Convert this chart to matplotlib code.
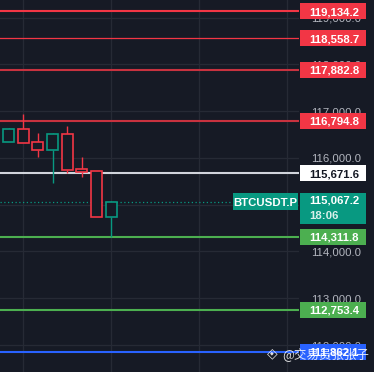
import matplotlib
matplotlib.use("Agg")
import matplotlib.pyplot as plt
from matplotlib.patches import Rectangle

# ---------------- data ----------------
opens  = [116346, 116611, 116333, 116175, 116504, 115756, 115714, 114744]
closes = [116611, 116325, 116175, 116504, 115748, 115705, 114744, 115067.2]
highs  = [116639, 116938, 116532, 116532, 116682, 116019, 115714, 115079]
lows   = [116346, 116325, 116026, 115470, 115684, 115598, 114744, 114316]

level_prices = [119134.2, 118558.7, 117882.8, 116794.8, 115671.6, 114311.8, 112753.4, 111862.1]
level_labels = ["119,134.2", "118,558.7", "117,882.8", "116,794.8", "115,671.6",
                "114,311.8", "112,753.4", "111,862.1"]
level_kinds  = ["red", "red_thin", "red_dark", "red_dark", "white", "green", "green", "blue"]

tick_prices = [112000, 113000, 114000, 115000, 116000, 117000, 118000, 119000]
tick_labels = ["112,000.0", "113,000.0", "114,000.0", "115,000.0",
               "116,000.0", "117,000.0", "118,000.0", "119,000.0"]

current_price = 115067.2
current_label = "115,067.2"
countdown = "18:06"
symbol = "BTCUSDT.P"
watermark = "@交易员张张子"

# ---------------- style ----------------
BG = "#161A25"
GRID = "#262A35"
UP = "#089981"
DOWN = "#F23645"
styles = {
    "red":      dict(line="#F23645", lw=1.5, box="#F23645", txt="white"),
    "red_thin": dict(line="#F23645", lw=0.9, box="#F23645", txt="white"),
    "red_dark": dict(line="#C8323F", lw=1.5, box="#F23645", txt="white"),
    "white":    dict(line="#D1D4DC", lw=1.5, box="#FFFFFF", txt="#131722"),
    "green":    dict(line="#4CAF50", lw=1.5, box="#4CAF50", txt="white"),
    "blue":     dict(line="#2962FF", lw=1.5, box="#2962FF", txt="white"),
}
FONT = "Liberation Sans"
FS = 8.2

W, H = 374, 372
fig = plt.figure(figsize=(W / 100, H / 100), dpi=100, facecolor=BG)
plot_w = 299
ax = fig.add_axes([0, 0, plot_w / W, 1])
ax.set_zorder(1)
ax.set_facecolor(BG)
ylim = (111425, 119374)
ax.set_ylim(*ylim)
ax.set_xlim(-0.588, 19.79)
for s in ax.spines.values():
    s.set_visible(False)

ax.set_xticks([1, 7, 13, 19])
ax.set_yticks(tick_prices)
ax.grid(True, color=GRID, lw=0.9)
ax.set_axisbelow(True)
ax.tick_params(axis="x", length=0, labelbottom=False)
ax.yaxis.tick_right()
ax.set_yticklabels(tick_labels)
ax.tick_params(axis="y", length=0, pad=9, labelcolor="#B2B5BE", labelsize=FS)
for t in ax.get_yticklabels():
    t.set_fontfamily(FONT)

# candles
bw = 0.75
for i, (o, c, h, l) in enumerate(zip(opens, closes, highs, lows)):
    col = UP if c >= o else DOWN
    top, bot = max(o, c), min(o, c)
    if h > top:
        ax.plot([i, i], [top, h], color=col, lw=1.0, zorder=3, solid_capstyle="butt")
    if l < bot:
        ax.plot([i, i], [l, bot], color=col, lw=1.0, zorder=3, solid_capstyle="butt")
    ax.add_patch(Rectangle((i - bw / 2, bot), bw, top - bot, facecolor=BG,
                           edgecolor=col, lw=1.2, zorder=4))

# horizontal levels
for p, k in zip(level_prices, level_kinds):
    st = styles[k]
    ax.axhline(p, color=st["line"], lw=st["lw"], zorder=2)

# current price dotted line
ax.axhline(current_price, color=UP, lw=0.9, ls=(0, (1, 2)), zorder=2)

# price axis overlay
ax2 = fig.add_axes([plot_w / W, 0, (W - plot_w) / W, 1], sharey=ax)
ax2.set_zorder(5)
ax2.set_xlim(0, W - plot_w)
ax2.patch.set_visible(False)
ax2.axis("off")
ax2.set_ylim(*ylim)

ppx = (ylim[1] - ylim[0]) / H  # price units per pixel
box_h = 16 * ppx
for p, lab, k in zip(level_prices, level_labels, level_kinds):
    st = styles[k]
    ax2.add_patch(Rectangle((1, p - box_h / 2), 66, box_h, facecolor=st["box"],
                            edgecolor="none", zorder=5, clip_on=False))
    ax2.text(35, p, lab, color=st["txt"], fontsize=FS, family=FONT, weight="bold",
             ha="center", va="center_baseline", zorder=6, clip_on=False)

# current price box
ax2.add_patch(Rectangle((1, current_price - 22 * ppx), 66, 31 * ppx, facecolor=UP,
                        edgecolor="none", zorder=5, clip_on=False))
ax2.text(35, current_price + 2.5 * ppx, current_label, color="white", fontsize=FS,
         family=FONT, weight="bold", ha="center", va="center_baseline", zorder=6, clip_on=False)
ax2.text(10, current_price - 13 * ppx, countdown, color="#D8EFEA", fontsize=FS,
         family=FONT, weight="bold", ha="left", va="center_baseline", zorder=6, clip_on=False)

# symbol label (left of price axis)
ax2.add_patch(Rectangle((-66, current_price - 8.5 * ppx), 65, 17 * ppx, facecolor=UP,
                        edgecolor="none", zorder=5, clip_on=False))
ax2.text(-33.5, current_price - 0.5 * ppx, symbol, color="white", fontsize=FS,
         family=FONT, weight="bold", ha="center", va="center_baseline", zorder=6, clip_on=False)

# watermark
fig.text(272 / W, 1 - 353 / H, "◇", color="white", alpha=0.85, fontsize=10,
         family=["DejaVu Sans"], ha="center", va="center", zorder=10)
fig.text(272 / W, 1 - 353 / H, "◆", color="white", alpha=0.85, fontsize=3.5,
         family=["DejaVu Sans"], ha="center", va="center", zorder=10)
fig.text(282 / W, 1 - 354 / H, watermark, color="white", alpha=0.85, fontsize=9,
         family=["Noto Sans CJK SC", "DejaVu Sans"], ha="left", va="center", zorder=10)

fig.savefig("out.png", dpi=100, facecolor=BG)
